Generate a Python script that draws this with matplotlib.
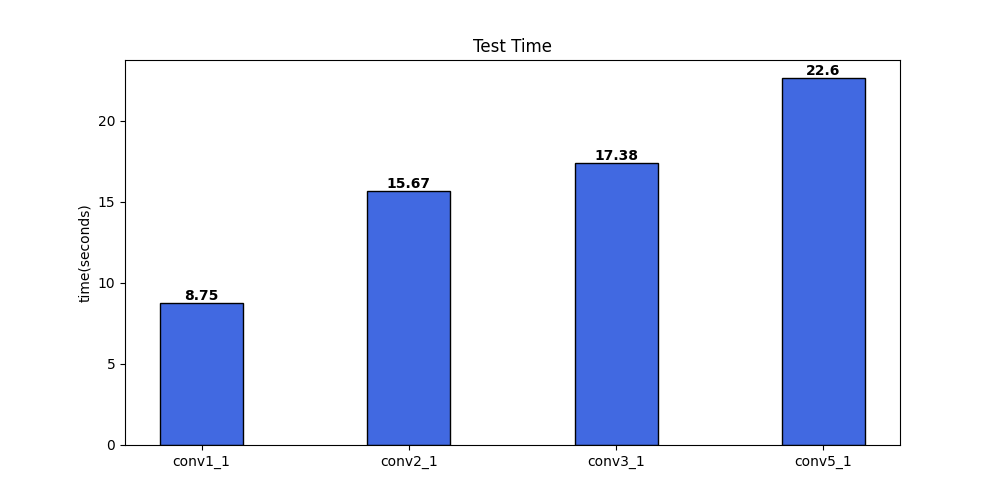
import matplotlib
matplotlib.use("Agg")
import matplotlib.pyplot as plt
import numpy as np

layers = ["conv1_1", "conv2_1", "conv3_1", "conv5_1"]
times = [8.75, 15.67, 17.38, 22.6]

fig, ax = plt.subplots(figsize=(10, 5), dpi=100)
x = np.arange(len(layers))
ax.bar(x, times, width=0.4, color="royalblue", edgecolor="black")
for xi, t in zip(x, times):
    ax.text(xi, t, str(t), ha="center", va="bottom", fontweight="bold", fontsize=10)
ax.set_xticks(x)
ax.set_xticklabels(layers)
ax.set_ylabel("time(seconds)")
ax.set_title("Test Time")
fig.savefig("out.png")
